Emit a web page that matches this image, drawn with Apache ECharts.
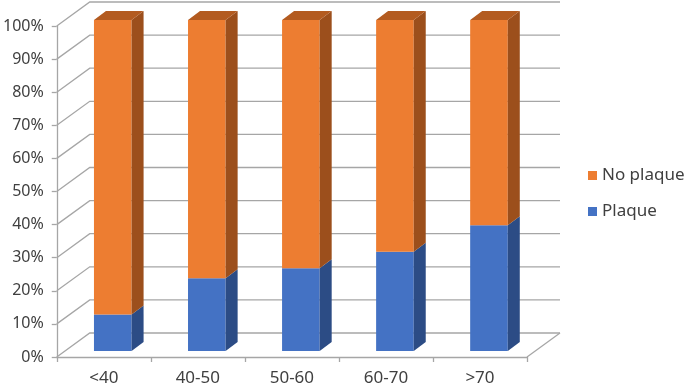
<!DOCTYPE html>
<html>
<head>
<meta charset="utf-8">
<script src="https://cdn.jsdelivr.net/npm/echarts@6/dist/echarts.min.js"></script>
<style>
  html, body { margin: 0; padding: 0; background: #fff; }
  #chart { width: 685px; height: 387px; }
</style>
</head>
<body>
<div id="chart"></div>
<script>
var categories = ['<40', '40-50', '50-60', '60-70', '>70'];
var plaque = [11, 22, 25, 30, 38];
var noPlaque = [89, 78, 75, 70, 62];
var yTicks = [0, 10, 20, 30, 40, 50, 60, 70, 80, 90, 100];

var chart = echarts.init(document.getElementById('chart'));

// 3d look: back wall offset and bar depth
var WALL_DX = 33, WALL_DY = -24;
var BAR_DX = 9, BAR_DY = -6;
var SIDE_DX = 12, SIDE_DY = -9;
var GRID_COLOR = '#a6a6a6';

function wallItem(params, api) {
    var cs = params.coordSys;
    var y = api.coord([0, api.value(1)])[1];
    var pts = [[cs.x, y], [cs.x + WALL_DX, y + WALL_DY], [cs.x + cs.width + WALL_DX, y + WALL_DY]];
    var children = [{
        type: 'polyline',
        shape: { points: pts },
        style: { stroke: GRID_COLOR, lineWidth: 1.3, fill: null }
    }];
    if (api.value(1) === 0) {
        children.push({
            type: 'line',
            shape: { x1: cs.x + cs.width, y1: y, x2: cs.x + cs.width + WALL_DX, y2: y + WALL_DY },
            style: { stroke: GRID_COLOR, lineWidth: 1.3 }
        });
    }
    return { type: 'group', children: children };
}

function makeBar(front, side, top, withTop) {
    return function (params, api) {
        var i = api.value(0);
        var p0 = api.coord([i, api.value(1)]);
        var p1 = api.coord([i, api.value(2)]);
        var w = api.size([1, 0])[0] * 0.4;
        var x0 = p0[0] - w / 2 + BAR_DX, x1 = x0 + w;
        var yb = p0[1] + BAR_DY, yt = p1[1] + BAR_DY;
        var children = [
            {
                type: 'rect',
                shape: { x: x0, y: yt, width: w, height: yb - yt },
                style: { fill: front }
            },
            {
                type: 'polygon',
                shape: { points: [[x1, yb], [x1, yt], [x1 + SIDE_DX, yt + SIDE_DY], [x1 + SIDE_DX, yb + SIDE_DY]] },
                style: { fill: side }
            }
        ];
        if (withTop) {
            children.push({
                type: 'polygon',
                shape: { points: [[x0, yt], [x1, yt], [x1 + SIDE_DX, yt + SIDE_DY], [x0 + SIDE_DX, yt + SIDE_DY]] },
                style: { fill: top }
            });
        }
        return { type: 'group', children: children };
    };
}

var option = {
    animation: false,
    textStyle: { fontFamily: 'Noto Sans' },
    grid: { left: 55, right: 158, top: 26, bottom: 30 },
    legend: {
        data: ['No plaque', 'Plaque'],
        orient: 'vertical',
        left: 583,
        top: 162,
        itemWidth: 9,
        itemHeight: 9,
        itemGap: 19,
        icon: 'rect',
        textStyle: { fontSize: 17, color: '#404040', fontFamily: 'Noto Sans' }
    },
    xAxis: {
        type: 'category',
        data: categories,
        axisLine: { lineStyle: { color: GRID_COLOR, width: 1.3 } },
        axisTick: { show: true, length: 5, lineStyle: { color: GRID_COLOR, width: 1.3 } },
        axisLabel: { fontSize: 17, color: '#404040', margin: 13 }
    },
    yAxis: {
        type: 'value',
        min: 0,
        max: 100,
        interval: 10,
        axisLine: { show: true, lineStyle: { color: GRID_COLOR, width: 1.3 } },
        axisTick: { show: true, length: 5, lineStyle: { color: GRID_COLOR, width: 1.3 } },
        axisLabel: { fontSize: 16, color: '#404040', margin: 13, formatter: '{value}%' },
        splitLine: { show: false }
    },
    series: [
        {
            type: 'custom',
            name: 'wall',
            silent: true,
            z: 1,
            renderItem: wallItem,
            encode: { x: 0, y: 1 },
            data: yTicks.map(function (v) { return [0, v]; })
        },
        {
            type: 'custom',
            name: 'Plaque',
            z: 2,
            itemStyle: { color: '#4472c4' },
            renderItem: makeBar('#4472c4', '#2c4c85', '#3a62a8', false),
            encode: { x: 0, y: [1, 2] },
            data: categories.map(function (c, i) { return [i, 0, plaque[i]]; })
        },
        {
            type: 'custom',
            name: 'No plaque',
            z: 3,
            itemStyle: { color: '#ed7d31' },
            renderItem: makeBar('#ed7d31', '#9c4f1c', '#b35b20', true),
            encode: { x: 0, y: [1, 2] },
            data: categories.map(function (c, i) { return [i, plaque[i], plaque[i] + noPlaque[i]]; })
        }
    ]
};

chart.setOption(option);
window.addEventListener('resize', function () {
    chart.resize();
});
</script>
</body>
</html>
